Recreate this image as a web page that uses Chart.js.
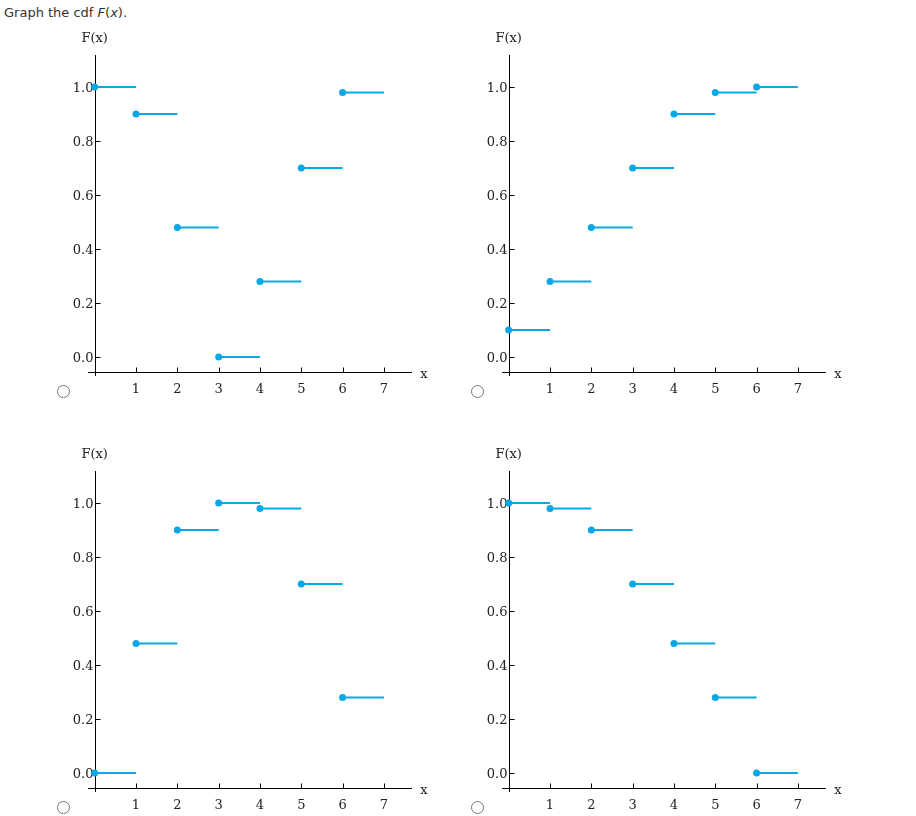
<!DOCTYPE html>
<html>
<head>
<meta charset="utf-8">
<script src="https://cdn.jsdelivr.net/npm/chart.js@4.4.0/dist/chart.umd.min.js"></script>
<style>
  body { margin: 0; background: #fff; width: 916px; height: 816px; overflow: hidden; position: relative; }
  #title { position: absolute; left: 4px; top: 5px; font: 13px "DejaVu Sans", sans-serif; color: #333; }
  canvas { position: absolute; }
  .opt { position: absolute; margin: 0; width: 13px; height: 13px; }
</style>
</head>
<body>
<div id="title">Graph the cdf <i>F</i>(<i>x</i>).</div>
<canvas id="cdfA" width="458" height="400" style="left:0;top:20px"></canvas>
<canvas id="cdfB" width="458" height="400" style="left:414px;top:20px"></canvas>
<canvas id="cdfC" width="458" height="380" style="left:0;top:436px"></canvas>
<canvas id="cdfD" width="458" height="380" style="left:414px;top:436px"></canvas>
<input type="radio" name="cdf" class="opt" style="left:57px;top:385px">
<input type="radio" name="cdf" class="opt" style="left:471px;top:385px">
<input type="radio" name="cdf" class="opt" style="left:57px;top:801px">
<input type="radio" name="cdf" class="opt" style="left:471px;top:801px">
<script>
const xTicks = [1, 2, 3, 4, 5, 6, 7];
const yTicks = [0.0, 0.2, 0.4, 0.6, 0.8, 1.0];
const stepStarts = [0, 1, 2, 3, 4, 5, 6];
const optionA = [1.0, 0.9, 0.48, 0.0, 0.28, 0.7, 0.98];
const optionB = [0.1, 0.28, 0.48, 0.7, 0.9, 0.98, 1.0];
const optionC = [0.0, 0.48, 0.9, 1.0, 0.98, 0.7, 0.28];
const optionD = [1.0, 0.98, 0.9, 0.7, 0.48, 0.28, 0.0];

const stepColour = '#08a8e6';
const labelFont = '13px "DejaVu Serif", serif';
const xAxisAt = -0.054;

// axes cross at x=0, drawn from the chart's own scales
const axesPlugin = {
    id: 'cdfAxes',
    beforeDatasetsDraw(chart) {
        const ctx = chart.ctx;
        const area = chart.chartArea;
        const xs = chart.scales.x;
        const ys = chart.scales.y;
        const x0 = xs.getPixelForValue(0);
        const yAxis = Math.round(ys.getPixelForValue(xAxisAt)) + 0.5;
        const xAxis = Math.round(x0) + 0.5;
        ctx.save();
        ctx.strokeStyle = '#000';
        ctx.lineWidth = 1;
        ctx.beginPath();
        ctx.moveTo(xAxis, area.top);
        ctx.lineTo(xAxis, area.bottom);
        ctx.moveTo(area.left, yAxis);
        ctx.lineTo(area.right, yAxis);
        // ticks point inwards
        yTicks.forEach(function (v) {
            const py = Math.round(ys.getPixelForValue(v)) + 0.5;
            ctx.moveTo(xAxis, py);
            ctx.lineTo(xAxis + 5, py);
        });
        xTicks.forEach(function (v) {
            const px = Math.round(xs.getPixelForValue(v)) + 0.5;
            ctx.moveTo(px, yAxis);
            ctx.lineTo(px, yAxis - 5);
        });
        ctx.stroke();

        ctx.fillStyle = '#222';
        ctx.font = labelFont;
        ctx.textAlign = 'right';
        ctx.textBaseline = 'alphabetic';
        yTicks.forEach(function (v) {
            ctx.fillText(v.toFixed(1), xAxis - 2, ys.getPixelForValue(v) + 5);
        });
        ctx.textAlign = 'center';
        xTicks.forEach(function (v) {
            ctx.fillText(String(v), xs.getPixelForValue(v), yAxis + 20);
        });
        ctx.fillText('F(x)', x0, area.top - 13);
        ctx.fillText('x', area.right + 12, yAxis + 5);
        ctx.restore();
    }
};

const buildChart = function (canvasId, levels, bottomPad) {
    const segments = [];
    const dots = [];
    stepStarts.forEach(function (s, i) {
        segments.push({x: s, y: levels[i]});
        segments.push({x: s + 1, y: levels[i]});
        segments.push({x: s + 1, y: null});
        dots.push({x: s, y: levels[i]});
    });
    return new Chart(document.getElementById(canvasId), {
        type: 'line',
        data: {
            datasets: [{
                data: dots,
                showLine: false,
                pointRadius: 3.5,
                pointBackgroundColor: stepColour,
                pointBorderColor: stepColour,
                pointBorderWidth: 0
            }, {
                data: segments,
                borderColor: stepColour,
                borderWidth: 2,
                pointRadius: 0,
                spanGaps: false
            }]
        },
        options: {
            responsive: false,
            animation: false,
            layout: { padding: { left: 88, top: 35, right: 46, bottom: bottomPad } },
            plugins: { legend: { display: false }, tooltip: { enabled: false } },
            scales: {
                x: { type: 'linear', min: -0.162, max: 7.68, display: false },
                y: { type: 'linear', min: -0.0704, max: 1.1185, display: false }
            }
        },
        plugins: [axesPlugin]
    });
};

buildChart('cdfA', optionA, 44);
buildChart('cdfB', optionB, 44);
buildChart('cdfC', optionC, 24);
buildChart('cdfD', optionD, 24);
</script>
</body>
</html>
